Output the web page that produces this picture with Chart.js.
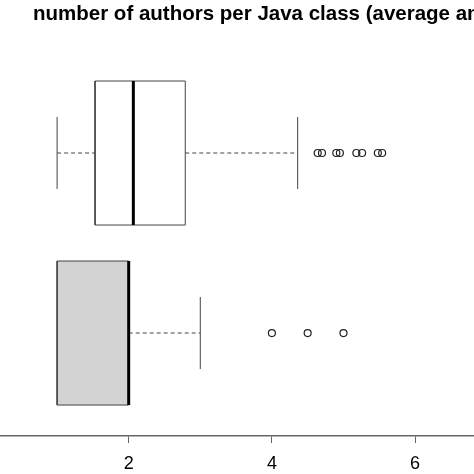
<!DOCTYPE html>
<html>
<head>
<meta charset="utf-8">
<script src="https://cdn.jsdelivr.net/npm/chart.js@4.4.1/dist/chart.umd.min.js"></script>
<style>
  html, body { margin: 0; padding: 0; background: #fff; }
  #wrap { width: 474px; height: 474px; }
</style>
</head>
<body>
<div id="wrap"><canvas id="boxChart" width="474" height="474"></canvas></div>
<script>
// Donnees (une ligne par boite, de haut en bas)
const titleText = "number of authors per Java class (average and maximum)";
const lowWhisker = [1.0, 1.0];
const q1 = [1.53, 1.0];
const median = [2.065, 2.0];
const q3 = [2.79, 2.0];
const highWhisker = [4.36, 3.0];
const outliers = [
    [4.64, 4.70, 4.90, 4.95, 5.18, 5.26, 5.48, 5.54],
    [4.0, 4.5, 5.0]
];
const boxFill = ["#ffffff", "#d3d3d3"];
const xTicks = [2, 4, 6];

const HALF = 0.4;   // demi hauteur de boite
const CAP = 0.2;    // demi hauteur des moustaches

// boite i -> position y (la premiere en haut)
function rowY(i) { return q1.length - i; }

function line(points, opts) {
    return Object.assign({
        type: 'scatter',
        data: points,
        showLine: true,
        pointRadius: 0,
        borderColor: '#444',
        borderWidth: 1,
        fill: false,
        order: 1
    }, opts || {});
}

const datasets = [];
q1.forEach((v, i) => {
    const y = rowY(i);
    // boite (dessinee en dessous du reste)
    datasets.push(line([
        {x: q1[i], y: y - HALF}, {x: q3[i], y: y - HALF},
        {x: q3[i], y: y + HALF}, {x: q1[i], y: y + HALF},
        {x: q1[i], y: y - HALF}
    ], {fill: 'shape', backgroundColor: boxFill[i], order: 5}));
    // moustaches
    if (lowWhisker[i] < q1[i]) {
        datasets.push(line([{x: lowWhisker[i], y: y}, {x: q1[i], y: y}], {borderDash: [4, 3]}));
        datasets.push(line([{x: lowWhisker[i], y: y - CAP}, {x: lowWhisker[i], y: y + CAP}]));
    }
    datasets.push(line([{x: q3[i], y: y}, {x: highWhisker[i], y: y}], {borderDash: [4, 3]}));
    datasets.push(line([{x: highWhisker[i], y: y - CAP}, {x: highWhisker[i], y: y + CAP}]));
    // mediane
    datasets.push(line([{x: median[i], y: y - HALF}, {x: median[i], y: y + HALF}], {borderColor: '#000', borderWidth: 3, order: 0}));
    // valeurs extremes
    datasets.push({
        type: 'scatter',
        data: outliers[i].map(o => ({x: o, y: y})),
        pointStyle: 'circle',
        pointRadius: 3.5,
        pointBorderWidth: 1.2,
        pointBorderColor: '#222',
        pointBackgroundColor: 'rgba(255,255,255,0)',
        order: 0
    });
});

// Titre R (tronque a droite comme sur l'image)
const titlePlugin = {
    id: 'rTitle',
    afterDraw(chart) {
        const ctx = chart.ctx;
        ctx.save();
        ctx.font = "bold 20.5px 'Liberation Sans', Arial, sans-serif";
        ctx.fillStyle = '#000';
        ctx.textBaseline = 'middle';
        ctx.fillText(titleText, 33, 14);
        ctx.restore();
    }
};

new Chart(document.getElementById('boxChart'), {
    type: 'scatter',
    data: { datasets: datasets },
    options: {
        responsive: false,
        animation: false,
        layout: { padding: 0, autoPadding: false },
        plugins: {
            legend: { display: false },
            tooltip: { enabled: false }
        },
        scales: {
            x: {
                type: 'linear',
                min: 0.2025,
                max: 6.823,
                afterBuildTicks: scale => { scale.ticks = xTicks.map(v => ({value: v})); },
                afterFit: scale => { scale.height = 38; },
                ticks: {
                    color: '#000',
                    font: { family: "'Liberation Sans', Arial, sans-serif", size: 18 },
                    padding: 10,
                    maxRotation: 0,
                    autoSkip: false
                },
                grid: {
                    drawOnChartArea: false,
                    tickLength: 7,
                    color: '#666'
                },
                border: { color: '#666', width: 1.5 }
            },
            y: {
                type: 'linear',
                display: false,
                min: 0.428,
                max: 2.85
            }
        }
    },
    plugins: [titlePlugin]
});
</script>
</body>
</html>
